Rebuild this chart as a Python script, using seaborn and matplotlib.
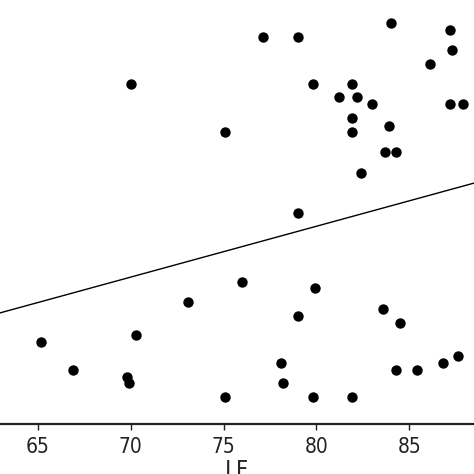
import numpy as np
import pandas as pd
import matplotlib
matplotlib.use("Agg")
import matplotlib.pyplot as plt
import seaborn as sns

sns.set_style("white")
plt.rcParams['font.family'] = ['Liberation Sans Narrow', 'DejaVu Sans']
plt.rcParams['font.stretch'] = 'condensed'

# values (y on an arbitrary 0-100 scale, no y axis shown)
lf = [77.1, 79.0, 84.0, 87.2, 87.3, 86.1, 70.0, 79.8, 81.9, 81.2, 82.2, 83.0,
      87.2, 87.9, 81.9, 83.9, 75.1, 81.9, 83.7, 84.3, 82.4, 79.0,
      76.0, 79.9, 73.1, 79.0, 83.6, 84.5, 65.2, 70.3, 66.9, 69.8, 69.9,
      78.1, 78.2, 75.1, 79.8, 81.9, 84.3, 85.4, 86.8, 87.6]
val = [91.3, 91.3, 94.6, 92.9, 88.3, 85.0, 80.2, 80.1, 80.1, 77.1, 77.1, 75.4,
       75.4, 75.4, 72.1, 70.4, 68.9, 68.8, 64.2, 64.2, 59.3, 49.7,
       33.5, 32.1, 28.8, 25.5, 27.2, 23.9, 19.3, 20.9, 12.7, 11.2, 9.6,
       14.3, 9.7, 6.4, 6.4, 6.4, 12.7, 12.7, 14.3, 16.0]
xticks = [65, 70, 75, 80, 85]

# fitted line as printed in the figure (intercept, slope)
fit_intercept = -49.36
fit_slope = 1.2

df = pd.DataFrame({'LF': lf, 'y': val})

fig = plt.figure(figsize=(4.74, 4.74), dpi=100)
ax = fig.add_axes([0, 50 / 474, 1, 424 / 474])
ax.set_xlim(62.97, 88.48)
ax.set_ylim(0, 100)

sns.scatterplot(data=df, x='LF', y='y', ax=ax, s=56, color='black',
                linewidth=0, alpha=1)

xl = np.array(ax.get_xlim())
fit = pd.DataFrame({'LF': xl, 'y': fit_intercept + fit_slope * xl})
sns.lineplot(data=fit, x='LF', y='y', ax=ax, color='black', lw=1.0)

ax.set_xlim(62.97, 88.48)
ax.set_ylim(0, 100)
ax.set_xticks(xticks)
ax.set_yticks([])
ax.set_ylabel('')
ax.set_xlabel('LF', fontsize=17, labelpad=1)
for s in ['top', 'left', 'right']:
    ax.spines[s].set_visible(False)
ax.spines['bottom'].set_linewidth(1.6)
ax.spines['bottom'].set_color('#222222')
ax.tick_params(axis='x', direction='out', length=4.5, width=1.0, pad=5,
               labelsize=15, colors='#222222', bottom=True)

fig.savefig('out.png', dpi=100)
